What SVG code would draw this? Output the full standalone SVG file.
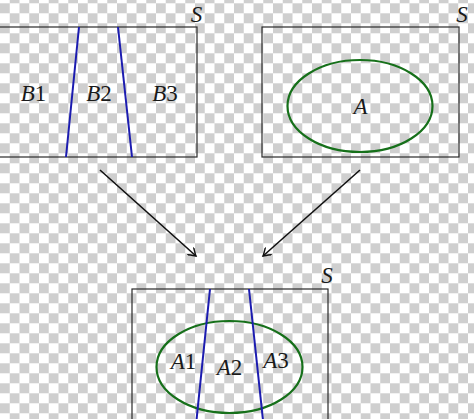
<svg xmlns="http://www.w3.org/2000/svg" width="474" height="419" viewBox="0 0 474 419">
<defs>
<pattern id="chk" patternUnits="userSpaceOnUse" x="0" y="3.3" width="19.5" height="20">
<rect width="19.5" height="20" fill="#ffffff"/>
<rect x="0" y="0" width="9.75" height="10" fill="#cfcfcf"/>
<rect x="9.75" y="10" width="9.75" height="10" fill="#cfcfcf"/>
</pattern>
<marker id="arr" viewBox="-8 -5 10 10" markerWidth="10" markerHeight="10" refX="0" refY="0" orient="auto" markerUnits="userSpaceOnUse">
<path d="M-7,-4.5 Q-2,-1 0,0 Q-2,1 -7,4.5" fill="none" stroke="#111" stroke-width="1.4" stroke-linecap="round"/>
</marker>
</defs>
<style>
.box{fill:none;stroke:#2a2a2a;stroke-width:1.2}
.blue{fill:none;stroke:#1c1cb0;stroke-width:2}
.green{fill:none;stroke:#16701a;stroke-width:2.2}
.conn{fill:none;stroke:#111;stroke-width:1.6}
text{font-family:"Liberation Serif","DejaVu Serif",serif;font-size:23px;fill:#1a1a1a;text-anchor:middle}
.it{font-style:italic}
</style>
<rect width="474" height="419" fill="url(#chk)"/>
<g id="node-B">
<rect class="box" x="-1" y="27" width="198" height="130"/>
<line class="blue" x1="79" y1="27" x2="66" y2="157"/>
<line class="blue" x1="118" y1="27" x2="132" y2="157"/>
<text x="196.5" y="22" class="it">S</text>
<text x="33.5" y="101"><tspan class="it">B</tspan>1</text>
<text x="99" y="101"><tspan class="it">B</tspan>2</text>
<text x="165" y="101"><tspan class="it">B</tspan>3</text>
</g>
<g id="node-A">
<rect class="box" x="262" y="27" width="197" height="130"/>
<ellipse class="green" cx="360" cy="106" rx="72.5" ry="46"/>
<text x="462" y="22" class="it">S</text>
<text x="360.5" y="114" class="it">A</text>
</g>
<g id="node-AB">
<rect class="box" x="132" y="289" width="196" height="140"/>
<ellipse class="green" cx="229.5" cy="367" rx="73" ry="46"/>
<line class="blue" x1="210" y1="289" x2="196" y2="425"/>
<line class="blue" x1="249" y1="289" x2="263.5" y2="425"/>
<text x="327" y="283" class="it">S</text>
<text x="183.5" y="369"><tspan class="it">A</tspan>1</text>
<text x="229.5" y="375"><tspan class="it">A</tspan>2</text>
<text x="276" y="368"><tspan class="it">A</tspan>3</text>
</g>
<g id="connectors">
<line class="conn" x1="100" y1="170" x2="196" y2="256" marker-end="url(#arr)"/>
<line class="conn" x1="360" y1="170" x2="263" y2="256" marker-end="url(#arr)"/>
</g>
</svg>
